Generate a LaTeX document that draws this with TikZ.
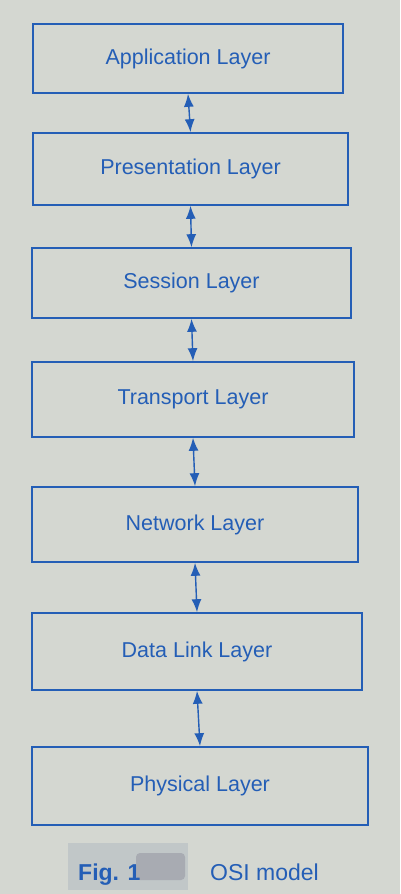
\documentclass[tikz,border=0pt]{standalone}
\usepackage{fontspec}
\setmainfont{Liberation Sans}
\usetikzlibrary{arrows.meta}
\definecolor{paper}{RGB}{212,215,209}
\definecolor{osiblue}{RGB}{36,94,182}
\definecolor{capshade}{RGB}{193,199,200}
\definecolor{redact}{RGB}{168,171,178}
\begin{document}
\begin{tikzpicture}[x=1pt,y=-1pt,
  layerbox/.style={draw=osiblue, line width=1.6pt, inner sep=0pt, text=osiblue,
    font=\fontsize{21.5pt}{26pt}\selectfont},
  link/.style={draw=osiblue, line width=1.4pt, {Latex[length=13pt,width=10pt]}-{Latex[length=13pt,width=10pt]}},
  captext/.style={text=osiblue, inner sep=0pt, anchor=base west, font=\fontsize{23pt}{27pt}\selectfont}]
\fill[paper] (0,0) rectangle (400,894);
\useasboundingbox (0,0) rectangle (400,894);
\node[layerbox, minimum width=310pt, minimum height=69pt] (app) at (188,58.5) {Application Layer};
\node[layerbox, minimum width=315pt, minimum height=72pt] (pre) at (190.5,169) {Presentation Layer};
\node[layerbox, minimum width=319pt, minimum height=70pt] (ses) at (191.5,283) {Session Layer};
\node[layerbox, minimum width=322pt, minimum height=75pt] (tra) at (193,399.5) {Transport Layer};
\node[layerbox, minimum width=326pt, minimum height=75pt] (net) at (195,524.5) {Network Layer};
\node[layerbox, minimum width=330pt, minimum height=77pt] (dll) at (197,651.5) {Data Link Layer};
\node[layerbox, minimum width=336pt, minimum height=78pt] (phy) at (200,786) {Physical Layer};
\draw[link] (app.south) -- (pre.north);
\draw[link] (pre.south) -- (ses.north);
\draw[link] (ses.south) -- (tra.north);
\draw[link] (tra.south) -- (net.north);
\draw[link] (net.south) -- (dll.north);
\draw[link] (dll.south) -- (phy.north);
\fill[capshade] (68,843) rectangle (188,890);
\fill[redact, rounded corners=4pt] (136,853) rectangle (185,880);
\node[captext, font=\fontsize{23pt}{27pt}\selectfont\bfseries] (fig) at (78,880) {Fig. 1};
\node[captext] (cap) at (210,880) {OSI model};
\end{tikzpicture}
\end{document}
